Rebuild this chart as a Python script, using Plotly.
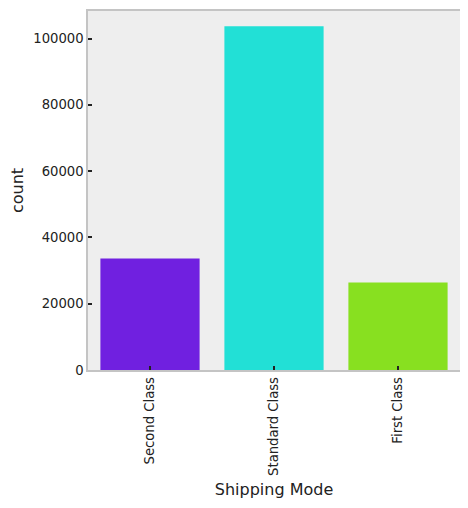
import plotly.graph_objects as go

categories = ["Second Class", "Standard Class", "First Class"]
counts = [33600, 103700, 26400]
colors = ["#7020E0", "#22E0D6", "#88E020"]
y_ticks = [0, 20000, 40000, 60000, 80000, 100000]

fig = go.Figure(go.Bar(x=categories, y=counts, marker=dict(color=colors, line=dict(width=0)), width=0.8))

fig.update_layout(
    width=468, height=508,
    margin=dict(l=80, r=16, t=3, b=146, autoexpand=False),
    paper_bgcolor="white", plot_bgcolor="#EEEEEE",
    font=dict(family="DejaVu Sans", color="#222222"),
    showlegend=False,
)
fig.update_xaxes(
    range=[-0.5, 2.5], tickangle=-90, ticks="inside", ticklen=4, tickwidth=1.5, tickcolor="#222222",
    showline=True, mirror=True, linecolor="#C4C4C4", linewidth=1.5, showgrid=False,
    tickfont=dict(size=13.2),
    title=dict(text="Shipping Mode", font=dict(size=16), standoff=9),
)
fig.update_yaxes(
    range=[0, 108300], tickvals=y_ticks, ticktext=[str(v) for v in y_ticks],
    ticks="inside", ticklen=4, tickwidth=1.5, tickcolor="#222222",
    showline=True, mirror=True, linecolor="#C4C4C4", linewidth=1.5, showgrid=False, zeroline=False,
    tickfont=dict(size=13.2),
    title=dict(text="count", font=dict(size=16), standoff=8),
)
fig.write_html("out.html")
